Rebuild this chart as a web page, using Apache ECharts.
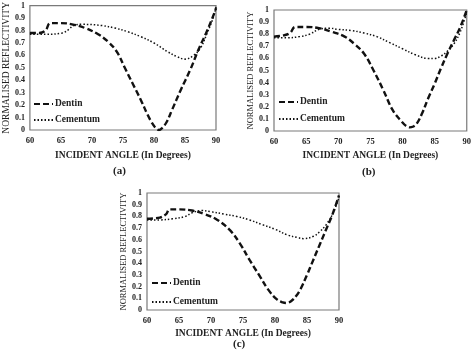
<!DOCTYPE html>
<html>
<head>
<meta charset="utf-8">
<script src="https://cdn.jsdelivr.net/npm/echarts@6/dist/echarts.min.js"></script>
<style>
  html, body { margin: 0; padding: 0; background: #fff; }
  #chart { width: 474px; height: 351px; }
</style>
</head>
<body>
<div id="chart"></div>
<script>
// angles (degrees) and normalised reflectivity
var angleA = [60, 61.5, 62.5, 63.3, 65, 66.8, 68.9, 71, 72.6, 74, 75.3, 76.6, 77.9, 79, 79.7, 80.3, 80.8, 81.3, 82, 82.9, 84.3, 85.9, 87.2, 88.5, 89.8, 90];
var dentinA = [0.78, 0.78, 0.80, 0.86, 0.86, 0.85, 0.82, 0.77, 0.71, 0.63, 0.50, 0.37, 0.24, 0.12, 0.055, 0.015, 0.0, 0.015, 0.06, 0.16, 0.32, 0.49, 0.65, 0.79, 0.95, 0.98];
var cemAngleA = [60, 62.5, 65.2, 66.3, 67, 68.4, 71.6, 73.7, 75.8, 77.9, 80, 82.2, 83.7, 85, 86.4, 87.5, 88.5, 89.6, 90];
var cementumA = [0.77, 0.77, 0.78, 0.81, 0.84, 0.85, 0.84, 0.82, 0.79, 0.75, 0.70, 0.63, 0.59, 0.57, 0.60, 0.66, 0.77, 0.91, 0.99];

var angleB = [60, 61.5, 62.5, 63.3, 65, 67, 69, 71, 72.5, 74, 75.5, 77, 78.5, 80, 80.6, 81.1, 81.6, 82.2, 83, 84, 85, 86, 87, 88, 89, 90];
var dentinB = [0.78, 0.79, 0.81, 0.86, 0.86, 0.85, 0.82, 0.78, 0.72, 0.64, 0.50, 0.34, 0.17, 0.07, 0.04, 0.03, 0.035, 0.06, 0.14, 0.27, 0.39, 0.52, 0.64, 0.75, 0.86, 1.0];
var cemAngleB = [60, 62, 64, 65.5, 67, 68.5, 70, 72, 74, 76, 78, 80, 82, 84, 85, 86, 87, 88, 89, 90];
var cementumB = [0.77, 0.77, 0.78, 0.80, 0.84, 0.85, 0.84, 0.83, 0.81, 0.78, 0.73, 0.68, 0.63, 0.60, 0.60, 0.62, 0.66, 0.72, 0.82, 0.98];

var angleC = [60, 62, 63, 63.5, 65, 67, 69, 71, 73, 74.5, 76, 77.5, 79, 80.3, 81.2, 81.8, 82.5, 83.3, 84, 85, 86, 87, 88, 89, 90];
var dentinC = [0.78, 0.79, 0.82, 0.86, 0.86, 0.85, 0.82, 0.77, 0.68, 0.57, 0.43, 0.30, 0.17, 0.09, 0.065, 0.06, 0.075, 0.12, 0.18, 0.30, 0.43, 0.56, 0.69, 0.82, 0.98];
var cemAngleC = [60, 62, 64, 66, 67, 68.5, 70, 72, 74, 76, 78, 80, 82, 83.5, 84.5, 86, 87, 88, 89, 90];
var cementumC = [0.77, 0.77, 0.78, 0.80, 0.83, 0.85, 0.84, 0.82, 0.80, 0.77, 0.73, 0.69, 0.64, 0.62, 0.61, 0.63, 0.67, 0.73, 0.82, 0.96];

var panelLabels = ['(a)', '(b)', '(c)'];
var seriesNames = ['Dentin', 'Cementum'];
var xTitle = 'INCIDENT ANGLE (In Degrees)';
var yTitle = 'NORMALISED REFLECTIVITY';

var FONT = 'Liberation Serif';

function pairs(xs, ys) {
  var out = [];
  for (var i = 0; i < xs.length; i++) out.push([xs[i], ys[i]]);
  return out;
}

// grid boxes for the three panels
var grids = [
  { left: 27, top: 4, width: 189, height: 126, nameGap: 21 },
  { left: 274, top: 10, width: 195, height: 121, nameGap: 20 },
  { left: 147, top: 193, width: 192, height: 117, nameGap: 19 }
];
var legendPos = [
  { left: 33, top: 99, gap: 6 },
  { left: 278, top: 97, gap: 7 },
  { left: 151, top: 278, gap: 9 }
];
var captionPos = [
  { left: 113, top: 166 },
  { left: 362, top: 167 },
  { left: 233, top: 339 }
];

var lines = [
  [pairs(angleA, dentinA), pairs(cemAngleA, cementumA)],
  [pairs(angleB, dentinB), pairs(cemAngleB, cementumB)],
  [pairs(angleC, dentinC), pairs(cemAngleC, cementumC)]
];

var option = {
  animation: false,
  backgroundColor: '#fff',
  color: ['#111', '#111'],
  textStyle: { fontFamily: FONT },
  grid: [], xAxis: [], yAxis: [], series: [], legend: [], title: []
};

for (var g = 0; g < 3; g++) {
  option.grid.push({
    left: grids[g].left, top: grids[g].top,
    width: grids[g].width, height: grids[g].height,
    show: true, borderColor: '#7a7a7a', borderWidth: 1.2,
    backgroundColor: 'transparent'
  });
  option.xAxis.push({
    type: 'value', gridIndex: g, min: 60, max: 90, interval: 5,
    name: xTitle, nameLocation: 'middle', nameGap: grids[g].nameGap,
    nameTextStyle: { fontFamily: FONT, fontWeight: 'bold', fontSize: 9.5, color: '#222' },
    axisLine: { show: false },
    axisTick: { show: false },
    splitLine: { show: false },
    axisLabel: { fontFamily: FONT, fontWeight: 'bold', fontSize: 8.5, color: '#222', margin: 6 }
  });
  option.yAxis.push({
    type: 'value', gridIndex: g, min: 0, max: 1, interval: 0.1,
    name: yTitle, nameLocation: 'middle', nameGap: 17, nameRotate: 90,
    nameTextStyle: { fontFamily: FONT, fontSize: g === 0 ? 9.5 : 8.5, color: '#222' },
    axisLine: { show: false },
    axisTick: { show: false },
    splitLine: { show: false },
    axisLabel: {
      fontFamily: FONT, fontWeight: 'bold', fontSize: 8, color: '#222', margin: 5,
      formatter: function (v) { return String(Math.round(v * 10) / 10); }
    }
  });
  option.series.push({
    name: seriesNames[0], type: 'line', xAxisIndex: g, yAxisIndex: g,
    data: lines[g][0], smooth: 0.4, showSymbol: false, symbol: 'none',
    itemStyle: { color: '#111' },
    lineStyle: { color: '#111', width: 2.4, type: [6, 3] }
  });
  option.series.push({
    name: seriesNames[1], type: 'line', xAxisIndex: g, yAxisIndex: g,
    data: lines[g][1], smooth: 0.4, showSymbol: false, symbol: 'none',
    itemStyle: { color: '#111' },
    lineStyle: { color: '#111', width: 1.5, type: [1.5, 2] }
  });
  option.legend.push({
    data: seriesNames, orient: 'vertical',
    left: legendPos[g].left, top: legendPos[g].top,
    itemWidth: 19, itemHeight: 8, itemGap: legendPos[g].gap,
    padding: 0,
    itemStyle: { opacity: 0 },
    textStyle: { fontFamily: FONT, fontWeight: 'bold', fontSize: 9.5, color: '#222', padding: [0, 0, 0, -3] }
  });
  option.title.push({
    text: panelLabels[g], left: captionPos[g].left, top: captionPos[g].top,
    padding: 0,
    textStyle: { fontFamily: FONT, fontWeight: 'bold', fontSize: 11, color: '#222' }
  });
}

var chart = echarts.init(document.getElementById('chart'), null, { renderer: 'canvas' });
chart.setOption(option);
</script>
</body>
</html>
